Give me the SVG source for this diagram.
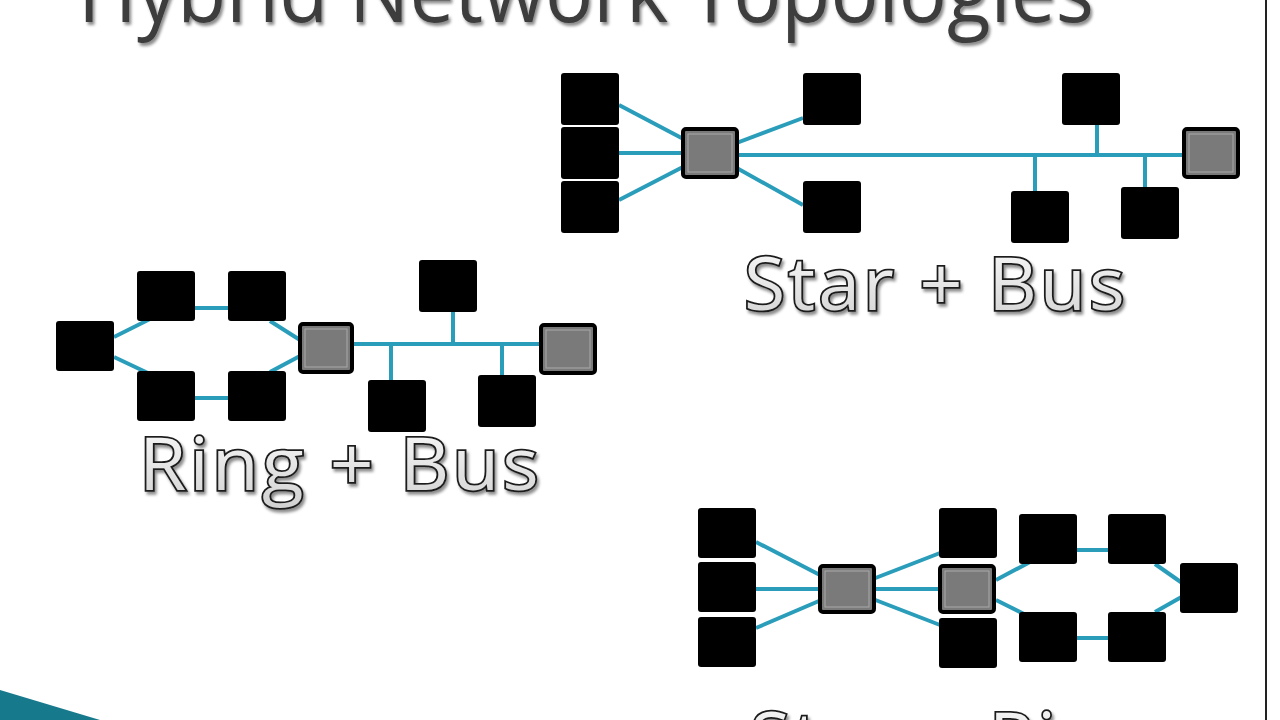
<svg xmlns="http://www.w3.org/2000/svg" width="1280" height="720" viewBox="0 0 1280 720">
<defs>
<filter id="ds" x="-5%" y="-5%" width="110%" height="130%"><feDropShadow dx="2" dy="3" stdDeviation="1.5" flood-color="#000" flood-opacity="0.45"/></filter>
<linearGradient id="lg" x1="0" y1="0" x2="0" y2="1"><stop offset="0" stop-color="#ffffff"/><stop offset="1" stop-color="#cfcfcf"/></linearGradient>
</defs>
<style>
.n{fill:#000}
.h{fill:#7a7a7a;stroke:#000;stroke-width:4}
.hi{fill:none;stroke:#aaa;stroke-width:1}
.c line{stroke:#2a9dba;stroke-width:4}
.lbl{font-family:"Open Sans","DejaVu Sans",sans-serif;font-size:74px;fill:url(#lg);stroke:#1a1a1a;stroke-width:3.5;paint-order:stroke;letter-spacing:3px;filter:url(#ds)}
</style>
<rect width="1280" height="720" fill="#fff"/>
<line x1="1266" y1="0" x2="1266" y2="720" stroke="#222" stroke-width="2"/>
<polygon points="0,690 100,720 0,720" fill="#17798c"/>
<text x="78" y="22" font-family="Open Sans,DejaVu Sans,sans-serif" font-size="86" fill="#3c3c3c" filter="url(#ds)" textLength="1016" lengthAdjust="spacingAndGlyphs">Hybrid Network Topologies</text>
<g class="c" id="connectors">
<line x1="710" y1="153" x2="619" y2="105"/><line x1="710" y1="153" x2="619" y2="153"/><line x1="710" y1="153" x2="619" y2="200"/>
<line x1="710" y1="153" x2="803" y2="118"/><line x1="710" y1="153" x2="803" y2="205"/>
<line x1="739" y1="155" x2="1183" y2="155"/>
<line x1="1097" y1="125" x2="1097" y2="155"/><line x1="1035" y1="155" x2="1035" y2="191"/><line x1="1145" y1="155" x2="1145" y2="187"/>
<line x1="114" y1="337" x2="150" y2="319"/><line x1="114" y1="357" x2="150" y2="374"/>
<line x1="195" y1="308" x2="228" y2="308"/><line x1="195" y1="398" x2="228" y2="398"/>
<line x1="270" y1="321" x2="300" y2="340"/><line x1="270" y1="372" x2="300" y2="356"/>
<line x1="354" y1="344" x2="540" y2="344"/>
<line x1="453" y1="312" x2="453" y2="344"/><line x1="391" y1="344" x2="391" y2="380"/><line x1="502" y1="344" x2="502" y2="375"/>
<line x1="847" y1="589" x2="756" y2="542"/><line x1="847" y1="589" x2="756" y2="589"/><line x1="847" y1="589" x2="756" y2="628"/>
<line x1="847" y1="589" x2="940" y2="553"/><line x1="847" y1="589" x2="940" y2="589"/><line x1="847" y1="589" x2="940" y2="625"/>
<line x1="996" y1="580" x2="1030" y2="562"/><line x1="996" y1="600" x2="1030" y2="617"/>
<line x1="1077" y1="550" x2="1108" y2="550"/><line x1="1077" y1="638" x2="1108" y2="638"/>
<line x1="1155" y1="564" x2="1185" y2="585"/><line x1="1155" y1="612" x2="1185" y2="595"/>
</g>
<g id="starbus">
<rect class="n" x="561" y="73" width="58" height="52" rx="3"/>
<rect class="n" x="561" y="127" width="58" height="52" rx="3"/>
<rect class="n" x="561" y="181" width="58" height="52" rx="3"/>
<rect class="n" x="803" y="73" width="58" height="52" rx="3"/>
<rect class="n" x="803" y="181" width="58" height="52" rx="3"/>
<rect class="n" x="1062" y="73" width="58" height="52" rx="3"/>
<rect class="n" x="1011" y="191" width="58" height="52" rx="3"/>
<rect class="n" x="1121" y="187" width="58" height="52" rx="3"/>
<rect class="h" x="683" y="129" width="54" height="48" rx="3"/><rect class="hi" x="688" y="134" width="44" height="38"/>
<rect class="h" x="1184" y="129" width="54" height="48" rx="3"/><rect class="hi" x="1189" y="134" width="44" height="38"/>
</g>
<g id="ringbus">
<rect class="n" x="56" y="321" width="58" height="50" rx="3"/>
<rect class="n" x="137" y="271" width="58" height="50" rx="3"/>
<rect class="n" x="228" y="271" width="58" height="50" rx="3"/>
<rect class="n" x="137" y="371" width="58" height="50" rx="3"/>
<rect class="n" x="228" y="371" width="58" height="50" rx="3"/>
<rect class="n" x="419" y="260" width="58" height="52" rx="3"/>
<rect class="n" x="368" y="380" width="58" height="52" rx="3"/>
<rect class="n" x="478" y="375" width="58" height="52" rx="3"/>
<rect class="h" x="300" y="324" width="52" height="48" rx="3"/><rect class="hi" x="305" y="329" width="42" height="38"/>
<rect class="h" x="541" y="325" width="54" height="48" rx="3"/><rect class="hi" x="546" y="330" width="44" height="38"/>
</g>
<g id="starring">
<rect class="n" x="698" y="508" width="58" height="50" rx="3"/>
<rect class="n" x="698" y="562" width="58" height="50" rx="3"/>
<rect class="n" x="698" y="617" width="58" height="50" rx="3"/>
<rect class="n" x="939" y="508" width="58" height="50" rx="3"/>
<rect class="n" x="939" y="618" width="58" height="50" rx="3"/>
<rect class="n" x="1019" y="514" width="58" height="50" rx="3"/>
<rect class="n" x="1019" y="612" width="58" height="50" rx="3"/>
<rect class="n" x="1108" y="514" width="58" height="50" rx="3"/>
<rect class="n" x="1108" y="612" width="58" height="50" rx="3"/>
<rect class="n" x="1180" y="563" width="58" height="50" rx="3"/>
<rect class="h" x="820" y="566" width="54" height="46" rx="3"/><rect class="hi" x="825" y="571" width="44" height="36"/>
<rect class="h" x="940" y="566" width="54" height="46" rx="3"/><rect class="hi" x="945" y="571" width="44" height="36"/>
</g>
<g id="labels">
<text class="lbl" x="744" y="310" textLength="384" lengthAdjust="spacingAndGlyphs">Star + Bus</text>
<text class="lbl" x="139" y="490" textLength="403" lengthAdjust="spacingAndGlyphs">Ring + Bus</text>
<text class="lbl" x="750" y="765" textLength="400" lengthAdjust="spacingAndGlyphs">Star + Ring</text>
</g>
</svg>
